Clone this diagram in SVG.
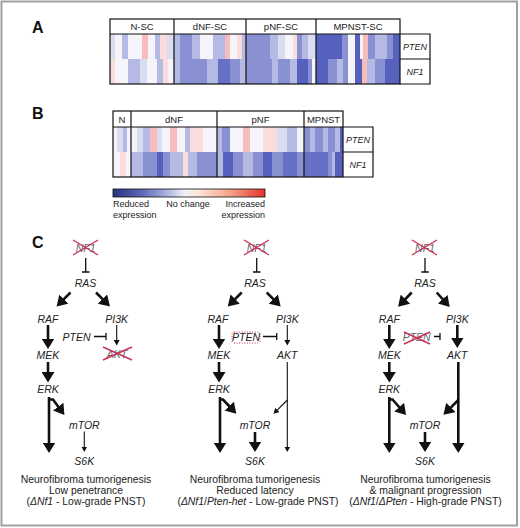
<svg xmlns="http://www.w3.org/2000/svg" width="520" height="528" viewBox="0 0 520 528">
<style>
.D{fill:#5661bd}.D2{fill:#6670c4}.M{fill:#8a91d2}.L{fill:#b5bae4}.V{fill:#dadcf1}.W{fill:#f4f4fa}.P{fill:#f7bcbc}.Q{fill:#fadcdc}
.grid{fill:none;stroke:#111;stroke-width:1.2}
.hd{font-family:"Liberation Sans",Arial,sans-serif;font-size:9.5px;fill:#222;text-anchor:middle}
.rl{font-family:"Liberation Sans",Arial,sans-serif;font-size:9px;font-style:italic;fill:#222;text-anchor:middle}
.pl{font-family:"Liberation Sans",Arial,sans-serif;font-size:16px;font-weight:bold;fill:#111}
.lg{font-family:"Liberation Sans",Arial,sans-serif;font-size:9px;fill:#222}
.nd{font-family:"Liberation Sans",Arial,sans-serif;font-size:10.5px;font-style:italic;fill:#222;text-anchor:middle}
.gone{fill:#666}
.cap{font-family:"Liberation Sans",Arial,sans-serif;font-size:10.4px;fill:#222;text-anchor:middle}
.x{stroke:#c8325a;stroke-width:1.4;fill:none}
.thick{stroke:#111;stroke-width:2.6;fill:none}
.thin{stroke:#111;stroke-width:1.1;fill:none}
.inh{stroke:#111;stroke-width:1.3;fill:none}
</style>
<defs>
<marker id="big" markerUnits="userSpaceOnUse" markerWidth="11" markerHeight="13" refX="0.5" refY="6.5" orient="auto"><path d="M0,0 L10.5,6.5 L0,13 z" fill="#111"/></marker>
<marker id="sm" markerUnits="userSpaceOnUse" markerWidth="6" markerHeight="6" refX="0.5" refY="3" orient="auto"><path d="M0,0 L5.5,3 L0,6 z" fill="#111"/></marker>
<linearGradient id="grad" x1="0" x2="1" y1="0" y2="0">
<stop offset="0" stop-color="#2a3383"/><stop offset="0.18" stop-color="#5964b5"/><stop offset="0.36" stop-color="#aeb3df"/><stop offset="0.47" stop-color="#f2f2f8"/><stop offset="0.56" stop-color="#fbe6dc"/><stop offset="0.78" stop-color="#f3a084"/><stop offset="1" stop-color="#e5322a"/>
</linearGradient>
</defs>
<rect x="1.5" y="1.5" width="515.5" height="524" fill="#fff" stroke="#a0a0a0" stroke-width="2"/>

<!-- Panel A -->
<text class="pl" x="32" y="33">A</text>
<g id="heatmapA">
<g id="A-pten">
<rect class="V" x="110" y="34" width="5" height="25"/><rect class="W" x="115" y="34" width="7" height="25"/><rect class="L" x="122" y="34" width="6" height="25"/><rect class="W" x="128" y="34" width="14" height="25"/><rect class="P" x="142" y="34" width="6" height="25"/><rect class="W" x="148" y="34" width="7" height="25"/><rect class="L" x="155" y="34" width="5" height="25"/><rect class="Q" x="160" y="34" width="7" height="25"/><rect class="V" x="167" y="34" width="7" height="25"/>
<rect class="L" x="174" y="34" width="6" height="25"/><rect class="M" x="180" y="34" width="12" height="25"/><rect class="L" x="192" y="34" width="8" height="25"/><rect class="W" x="200" y="34" width="13" height="25"/><rect class="L" x="213" y="34" width="12" height="25"/><rect class="P" x="225" y="34" width="5" height="25"/><rect class="W" x="230" y="34" width="7" height="25"/><rect class="Q" x="237" y="34" width="5" height="25"/><rect class="L" x="242" y="34" width="4" height="25"/>
<rect class="M" x="246" y="34" width="24" height="25"/><rect class="L" x="270" y="34" width="8" height="25"/><rect class="V" x="278" y="34" width="7" height="25"/><rect class="W" x="285" y="34" width="8" height="25"/><rect class="Q" x="293" y="34" width="4" height="25"/><rect class="M" x="297" y="34" width="5" height="25"/><rect class="L" x="302" y="34" width="6" height="25"/><rect class="V" x="308" y="34" width="8" height="25"/>
<rect class="D" x="316" y="34" width="26" height="25"/><rect class="M" x="342" y="34" width="6" height="25"/><rect class="W" x="348" y="34" width="7" height="25"/><rect class="D" x="355" y="34" width="5" height="25"/><rect class="W" x="360" y="34" width="3" height="25"/><rect class="P" x="363" y="34" width="5" height="25"/><rect class="M" x="368" y="34" width="7" height="25"/><rect class="L" x="375" y="34" width="12" height="25"/><rect class="M" x="387" y="34" width="6" height="25"/><rect class="D" x="393" y="34" width="7" height="25"/>
</g>
<g id="A-nf1">
<rect class="Q" x="110" y="59" width="5" height="25"/><rect class="W" x="115" y="59" width="13" height="25"/><rect class="L" x="128" y="59" width="12" height="25"/><rect class="V" x="140" y="59" width="7" height="25"/><rect class="W" x="147" y="59" width="10" height="25"/><rect class="L" x="157" y="59" width="6" height="25"/><rect class="Q" x="163" y="59" width="5" height="25"/><rect class="W" x="168" y="59" width="6" height="25"/>
<rect class="L" x="174" y="59" width="6" height="25"/><rect class="M" x="180" y="59" width="27" height="25"/><rect class="L" x="207" y="59" width="11" height="25"/><rect class="D2" x="218" y="59" width="12" height="25"/><rect class="M" x="230" y="59" width="10" height="25"/><rect class="L" x="240" y="59" width="6" height="25"/>
<rect class="M" x="246" y="59" width="26" height="25"/><rect class="L" x="272" y="59" width="6" height="25"/><rect class="M" x="278" y="59" width="12" height="25"/><rect class="L" x="290" y="59" width="7" height="25"/><rect class="D" x="297" y="59" width="11" height="25"/><rect class="M" x="308" y="59" width="4" height="25"/><rect class="W" x="312" y="59" width="4" height="25"/>
<rect class="D" x="316" y="59" width="12" height="25"/><rect class="M" x="328" y="59" width="9" height="25"/><rect class="L" x="337" y="59" width="6" height="25"/><rect class="M" x="343" y="59" width="5" height="25"/><rect class="W" x="348" y="59" width="7" height="25"/><rect class="D" x="355" y="59" width="7" height="25"/><rect class="P" x="362" y="59" width="5" height="25"/><rect class="L" x="367" y="59" width="8" height="25"/><rect class="M" x="375" y="59" width="10" height="25"/><rect class="D" x="385" y="59" width="15" height="25"/>
</g>
<rect class="grid" x="110" y="19" width="290" height="65"/>
<path class="grid" d="M110,34 H430 V84 H400 M400,59 H430 M174,19 V84 M246,19 V84 M316,19 V84"/>
<text class="hd" x="142" y="30">N-SC</text>
<text class="hd" x="210" y="30">dNF-SC</text>
<text class="hd" x="281" y="30">pNF-SC</text>
<text class="hd" x="358" y="30">MPNST-SC</text>
<text class="rl" x="415" y="50">PTEN</text>
<text class="rl" x="415" y="75">NF1</text>
</g>

<!-- Panel B -->
<text class="pl" x="32" y="119">B</text>
<g id="heatmapB">
<g id="B-pten">
<rect class="W" x="113" y="127" width="4" height="25"/><rect class="V" x="117" y="127" width="6" height="25"/><rect class="L" x="123" y="127" width="4" height="25"/><rect class="W" x="127" y="127" width="4" height="25"/>
<rect class="W" x="131" y="127" width="6" height="25"/><rect class="V" x="137" y="127" width="6" height="25"/><rect class="L" x="143" y="127" width="7" height="25"/><rect class="P" x="150" y="127" width="7" height="25"/><rect class="V" x="157" y="127" width="5" height="25"/><rect class="W" x="162" y="127" width="8" height="25"/><rect class="P" x="170" y="127" width="7" height="25"/><rect class="W" x="177" y="127" width="8" height="25"/><rect class="L" x="185" y="127" width="5" height="25"/><rect class="Q" x="190" y="127" width="13" height="25"/><rect class="W" x="203" y="127" width="14" height="25"/>
<rect class="L" x="217" y="127" width="5" height="25"/><rect class="M" x="222" y="127" width="8" height="25"/><rect class="W" x="230" y="127" width="13" height="25"/><rect class="P" x="243" y="127" width="7" height="25"/><rect class="W" x="250" y="127" width="13" height="25"/><rect class="Q" x="263" y="127" width="14" height="25"/><rect class="V" x="277" y="127" width="10" height="25"/><rect class="L" x="287" y="127" width="10" height="25"/><rect class="W" x="297" y="127" width="7" height="25"/>
<rect class="M" x="304" y="127" width="6" height="25"/><rect class="L" x="310" y="127" width="5" height="25"/><rect class="M" x="315" y="127" width="8" height="25"/><rect class="L" x="323" y="127" width="5" height="25"/><rect class="M" x="328" y="127" width="7" height="25"/><rect class="L" x="335" y="127" width="5" height="25"/><rect class="D" x="340" y="127" width="3" height="25"/>
</g>
<g id="B-nf1">
<rect class="W" x="113" y="152" width="7" height="25"/><rect class="Q" x="120" y="152" width="6" height="25"/><rect class="W" x="126" y="152" width="5" height="25"/>
<rect class="L" x="131" y="152" width="12" height="25"/><rect class="M" x="143" y="152" width="14" height="25"/><rect class="D" x="157" y="152" width="6" height="25"/><rect class="M" x="163" y="152" width="7" height="25"/><rect class="L" x="170" y="152" width="13" height="25"/><rect class="Q" x="183" y="152" width="5" height="25"/><rect class="L" x="188" y="152" width="9" height="25"/><rect class="M" x="197" y="152" width="20" height="25"/>
<rect class="L" x="217" y="152" width="6" height="25"/><rect class="D" x="223" y="152" width="10" height="25"/><rect class="M" x="233" y="152" width="10" height="25"/><rect class="L" x="243" y="152" width="10" height="25"/><rect class="M" x="253" y="152" width="10" height="25"/><rect class="D" x="263" y="152" width="9" height="25"/><rect class="M" x="272" y="152" width="11" height="25"/><rect class="D2" x="283" y="152" width="14" height="25"/><rect class="M" x="297" y="152" width="7" height="25"/>
<rect class="D2" x="304" y="152" width="24" height="25"/><rect class="M" x="328" y="152" width="4" height="25"/><rect class="L" x="332" y="152" width="3" height="25"/><rect class="D" x="335" y="152" width="8" height="25"/>
</g>
<rect class="grid" x="113" y="111" width="230" height="66"/>
<path class="grid" d="M113,127 H373 V177 H343 M343,152 H373 M131,111 V177 M217,111 V177 M304,111 V177"/>
<text class="hd" x="122" y="122.5">N</text>
<text class="hd" x="174" y="122.5">dNF</text>
<text class="hd" x="260.5" y="122.5">pNF</text>
<text class="hd" x="323.5" y="122.5">MPNST</text>
<text class="rl" x="358" y="143">PTEN</text>
<text class="rl" x="358" y="168">NF1</text>
</g>

<!-- Legend -->
<g id="legend">
<rect x="113" y="189" width="152" height="8" fill="url(#grad)" stroke="#111" stroke-width="0.8"/>
<text class="lg" x="113" y="207">Reduced</text>
<text class="lg" x="113" y="218">expression</text>
<text class="lg" x="188" y="207" text-anchor="middle">No change</text>
<text class="lg" x="265" y="207" text-anchor="end">Increased</text>
<text class="lg" x="265" y="218" text-anchor="end">expression</text>
</g>

<!-- Panel C -->
<text class="pl" x="32" y="248">C</text>

<!-- Pathway 1 -->
<g id="p1-NF1"><text class="nd gone" x="85.7" y="251.5">NF1</text><path class="x" d="M73,240 L98,255 M73,255 L98,240"/></g>
<g id="p1-RAS"><text class="nd" x="85.5" y="287">RAS</text></g>
<g id="p1-RAF"><text class="nd" x="48" y="322.7">RAF</text></g>
<g id="p1-PI3K"><text class="nd" x="116.7" y="322.7">PI3K</text></g>
<g id="p1-PTEN"><text class="nd" x="76.5" y="340.5">PTEN</text></g>
<g id="p1-MEK"><text class="nd" x="48" y="358.5">MEK</text></g>
<g id="p1-AKT"><text class="nd gone" x="117" y="358">AKT</text><path class="x" d="M103,347 L132,360 M103,360 L132,347"/></g>
<g id="p1-ERK"><text class="nd" x="48" y="392.7">ERK</text></g>
<g id="p1-mTOR"><text class="nd" x="84.3" y="429">mTOR</text></g>
<g id="p1-S6K"><text class="nd" x="84.3" y="464.5">S6K</text></g>
<g id="p1-caption">
<text class="cap" x="86" y="483">Neurofibroma tumorigenesis</text>
<text class="cap" x="86" y="493.8">Low penetrance</text>
<text class="cap" x="86" y="504.5">(<tspan font-style="italic">ΔNf1</tspan> - Low-grade PNST)</text>
</g>

<!-- Pathway 2 -->
<g id="p2-NF1"><text class="nd gone" x="256.7" y="251.5">NF1</text><path class="x" d="M244,240 L269,255 M244,255 L269,240"/></g>
<g id="p2-RAS"><text class="nd" x="255" y="287">RAS</text></g>
<g id="p2-RAF"><text class="nd" x="218" y="322.7">RAF</text></g>
<g id="p2-PI3K"><text class="nd" x="287.3" y="322.7">PI3K</text></g>
<g id="p2-PTEN"><text class="nd" x="246" y="340.5" fill="#4a2a3a">PTEN</text><rect x="232" y="332" width="28" height="11" rx="2" fill="none" stroke="#c8325a" stroke-width="1" stroke-dasharray="1,1.6"/></g>
<g id="p2-MEK"><text class="nd" x="219" y="358.5">MEK</text></g>
<g id="p2-AKT"><text class="nd" x="287.3" y="358.5">AKT</text></g>
<g id="p2-ERK"><text class="nd" x="219" y="392.7">ERK</text></g>
<g id="p2-mTOR"><text class="nd" x="255" y="429">mTOR</text></g>
<g id="p2-S6K"><text class="nd" x="255" y="464.5">S6K</text></g>
<g id="p2-caption">
<text class="cap" x="255" y="483">Neurofibroma tumorigenesis</text>
<text class="cap" x="255" y="493.8">Reduced latency</text>
<text class="cap" x="258" y="504.5">(<tspan font-style="italic">ΔNf1</tspan>/<tspan font-style="italic">Pten-het</tspan> - Low-grade PNST)</text>
</g>

<!-- Pathway 3 -->
<g id="p3-NF1"><text class="nd gone" x="425" y="251.5">NF1</text><path class="x" d="M412,240 L437,255 M412,255 L437,240"/></g>
<g id="p3-RAS"><text class="nd" x="425" y="287">RAS</text></g>
<g id="p3-RAF"><text class="nd" x="389.3" y="322.7">RAF</text></g>
<g id="p3-PI3K"><text class="nd" x="457.3" y="322.7">PI3K</text></g>
<g id="p3-PTEN"><text class="nd gone" x="416.7" y="340.5">PTEN</text><path class="x" d="M404,332 L430,344 M404,344 L430,332"/></g>
<g id="p3-MEK"><text class="nd" x="389.3" y="358.5">MEK</text></g>
<g id="p3-AKT"><text class="nd" x="457.3" y="358.5">AKT</text></g>
<g id="p3-ERK"><text class="nd" x="389.3" y="392.7">ERK</text></g>
<g id="p3-mTOR"><text class="nd" x="425" y="429">mTOR</text></g>
<g id="p3-S6K"><text class="nd" x="425" y="464.5">S6K</text></g>
<g id="p3-caption">
<text class="cap" x="425.5" y="483">Neurofibroma tumorigenesis</text>
<text class="cap" x="425.5" y="493.8">&amp; malignant progression</text>
<text class="cap" x="425.5" y="504.5">(<tspan font-style="italic">ΔNf1</tspan>/<tspan font-style="italic">ΔPten</tspan> - High-grade PNST)</text>
</g>

<g id="connectors">
<!-- pathway 1 -->
<path class="inh" d="M85.7,258 V272 M82,272 H89.5"/>
<path class="thick" d="M70.5,292.5 L63.6,299.4" marker-end="url(#big)"/>
<path class="thick" d="M96,292.5 L102.9,299.4" marker-end="url(#big)"/>
<path class="thick" d="M48,325 V339" marker-end="url(#big)"/>
<path class="thick" d="M48,362 V372.5" marker-end="url(#big)"/>
<path class="thin" d="M116.7,325 V340.5" marker-end="url(#sm)"/>
<path class="inh" d="M94,336.5 H106 M106,333 V340"/>
<path class="thick" d="M49,397 V443" marker-end="url(#big)"/>
<path class="thick" d="M48,399.5 H53 L58.5,407" marker-end="url(#big)"/>
<path class="thin" d="M84.3,431.5 V447" marker-end="url(#sm)"/>
<!-- pathway 2 -->
<path class="inh" d="M256.7,258 V272 M253,272 H260.5"/>
<path class="thick" d="M241.7,292.5 L234.8,299.4" marker-end="url(#big)"/>
<path class="thick" d="M266.7,292.5 L273.6,299.4" marker-end="url(#big)"/>
<path class="thick" d="M219,325 V339" marker-end="url(#big)"/>
<path class="thick" d="M219,362 V372.5" marker-end="url(#big)"/>
<path class="thin" d="M287.3,325 V340.5" marker-end="url(#sm)"/>
<path class="inh" d="M263,336.5 H276.7 M276.7,333 V340"/>
<path class="thin" d="M287.3,362 V447" marker-end="url(#sm)"/>
<path class="thin" d="M287.3,400 L277,410.3" marker-end="url(#sm)"/>
<path class="thick" d="M220,397 V443" marker-end="url(#big)"/>
<path class="thick" d="M219,399.5 H223 L229.5,406.5" marker-end="url(#big)"/>
<path class="thick" d="M255,432 V442" marker-end="url(#big)"/>
<!-- pathway 3 -->
<path class="inh" d="M425,258 V272 M421.3,272 H428.8"/>
<path class="thick" d="M411.7,292.5 L405,299.5" marker-end="url(#big)"/>
<path class="thick" d="M436.7,292.5 L443,299.5" marker-end="url(#big)"/>
<path class="thick" d="M389.3,325 V339" marker-end="url(#big)"/>
<path class="thick" d="M389.3,362 V372.5" marker-end="url(#big)"/>
<path class="thick" d="M457.3,325 V338" marker-end="url(#big)"/>
<path class="inh" d="M434,336.5 H440 M440,333 V340"/>
<path class="thick" d="M458.3,362 V443" marker-end="url(#big)"/>
<path class="thick" d="M458.3,400 L450.5,407.8" marker-end="url(#big)"/>
<path class="thick" d="M389.3,397 V443" marker-end="url(#big)"/>
<path class="thick" d="M388.3,399.5 H392.5 L399.5,407.5" marker-end="url(#big)"/>
<path class="thick" d="M425,432 V442" marker-end="url(#big)"/>
</g>
</svg>
